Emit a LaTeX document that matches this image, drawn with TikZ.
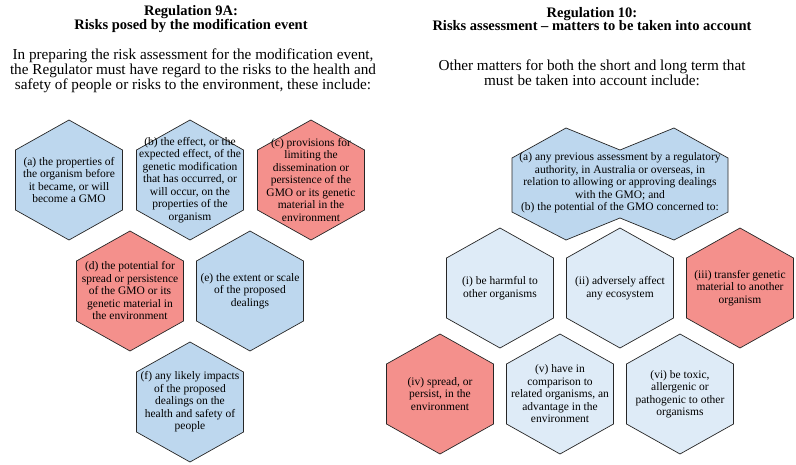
\documentclass[tikz,border=0pt]{standalone}
\usepackage{fontspec}
\setmainfont{Liberation Serif}
\definecolor{hblue}{HTML}{BDD7EE}
\definecolor{hred}{HTML}{F4908C}
\definecolor{hpale}{HTML}{DEEBF7}
\tikzset{hexline/.style={draw=black!85, line width=0.7pt, line join=miter},
 hextext/.style={align=center, font=\fontsize{11.5}{12.5}\selectfont, inner sep=0pt},
 ttl/.style={align=center, font=\bfseries\fontsize{14.5}{13.5}\selectfont},
 body/.style={align=center, font=\fontsize{15.2}{15}\selectfont}}
\newcommand{\hexa}[5]{%
 \fill[#4] (#2,#3) ++(0,-60) -- ++(53.5,30) -- ++(0,60) -- ++(-53.5,30) -- ++(-53.5,-30) -- ++(0,-60) -- cycle;
 \draw[hexline] (#2,#3) ++(0,-60) -- ++(53.5,30) -- ++(0,60) -- ++(-53.5,30) -- ++(-53.5,-30) -- ++(0,-60) -- cycle;
 \node[hextext] (#1) at (#2,#3) {#5};}
\begin{document}
\begin{tikzpicture}[x=1pt,y=-1pt]
\useasboundingbox (0,0) rectangle (796,464);
\node[ttl] (t1) at (191,19) {Regulation 9A:\\Risks posed by the modification event};
\node[ttl] (t2) at (592,19) {Regulation 10:\\Risks assessment -- matters to be taken into account};
\node[body] (b1) at (193,71) {In preparing the risk assessment for the modification event,\\the Regulator must have regard to the risks to the health and\\safety of people or risks to the environment, these include:};
\node[body] (b2) at (592,73) {Other matters for both the short and long term that\\must be taken into account include:};
\hexa{la}{69}{180}{hblue}{(a) the properties of\\the organism before\\it became, or will\\become a GMO}
\hexa{lb}{190}{180}{hblue}{(b) the effect, or the\\expected effect, of the\\genetic modification\\that has occurred, or\\will occur, on the\\properties of the\\organism}
\hexa{lc}{311}{180}{hred}{(c) provisions for\\limiting the\\dissemination or\\persistence of the\\GMO or its genetic\\material in the\\environment}
\hexa{ld}{130}{291}{hred}{(d) the potential for\\spread or persistence\\of the GMO or its\\genetic material in\\the environment}
\hexa{le}{250}{291}{hblue}{(e) the extent or scale\\of the proposed\\dealings}
\hexa{lf}{190}{402}{hblue}{(f) any likely impacts\\of the proposed\\dealings on the\\health and safety of\\people}
% big double hexagon
\path[fill=hblue, hexline] (512,158) -- (566,128) -- (620,150) -- (674,128) -- (728,158) -- (728,212) -- (674,240) -- (620,218) -- (566,240) -- (512,212) -- cycle;
\node[hextext] (ra) at (620,183) {(a) any previous assessment by a regulatory\\authority, in Australia or overseas, in\\relation to allowing or approving dealings\\with the GMO; and\\(b) the potential of the GMO concerned to:};
\hexa{ri}{500}{288}{hpale}{(i) be harmful to\\other organisms}
\hexa{rii}{620}{288}{hpale}{(ii) adversely affect\\any ecosystem}
\hexa{riii}{740}{288}{hred}{(iii) transfer genetic\\material to another\\organism}
\hexa{riv}{440}{394}{hred}{(iv) spread, or\\persist, in the\\environment}
\hexa{rv}{560}{394}{hpale}{(v) have in\\comparison to\\related organisms, an\\advantage in the\\environment}
\hexa{rvi}{680}{394}{hpale}{(vi) be toxic,\\allergenic or\\pathogenic to other\\organisms}
\end{tikzpicture}
\end{document}
